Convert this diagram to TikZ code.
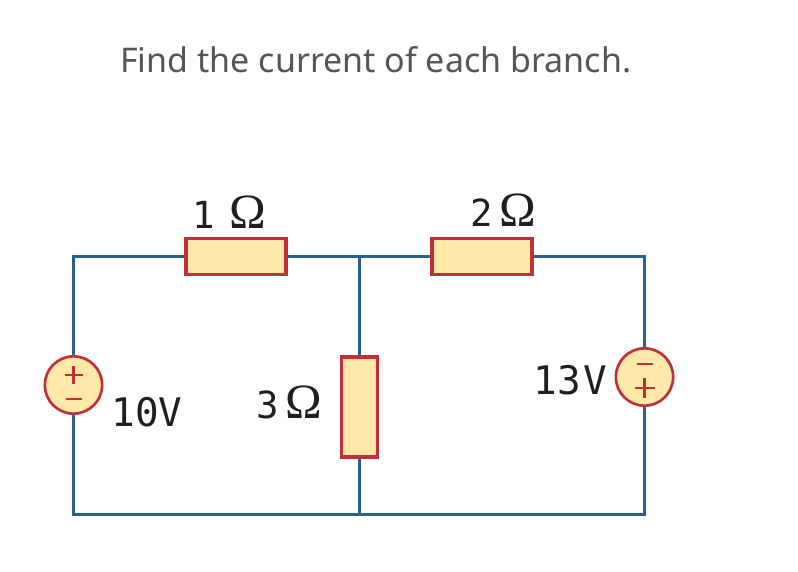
\documentclass[tikz,border=0pt]{standalone}
\usepackage{fontspec}
\setmainfont{Noto Sans}
\newfontfamily\labelfont{DejaVu Sans Mono}
\newfontfamily\ohmfont{Liberation Serif}
\usetikzlibrary{calc,positioning}
\definecolor{wireblue}{RGB}{42,96,144}
\definecolor{partred}{RGB}{192,48,56}
\definecolor{partfill}{RGB}{255,232,168}
\definecolor{titlegrey}{RGB}{85,85,85}
\newcommand{\ohm}[2][5pt]{{\labelfont #2}\hspace{#1}{\ohmfont\fontsize{37}{37}\selectfont\symbol{"03A9}}}
\tikzset{hres/.style={draw=partred,fill=partfill,line width=2.4pt,minimum width=75pt,minimum height=27.5pt,inner sep=0pt,shape=rectangle},
vres/.style={hres,minimum width=27pt,minimum height=75pt},
source/.style={draw=partred,fill=partfill,line width=2pt,minimum size=43pt,inner sep=0pt,shape=circle},
wire/.style={wireblue,line width=1.8pt},
sign/.style={partred,line width=1.6pt},
vallabel/.style={font=\fontsize{28}{30}\selectfont\labelfont,text=black!88,inner sep=0pt},
vlabel/.style={vallabel,font=\fontsize{29.5}{30}\selectfont\labelfont}}

\begin{document}
\begin{tikzpicture}[x=0.75pt,y=-0.75pt]
\useasboundingbox (0,0) rectangle (798,571);

% Title
\node[anchor=west,inner sep=0pt,text=titlegrey,font=\fontsize{25.5}{30}\selectfont] (title) at (120,60) {Find the current of each branch.};

% Corners and junctions
\coordinate (tl) at (73.5,256.5);
\coordinate (tm) at (359.5,256.5);
\coordinate (tr) at (644.5,256.5);
\coordinate (bl) at (73.5,514.5);
\coordinate (bm) at (359.5,514.5);
\coordinate (br) at (644.5,514.5);

% Parts
\node[hres] (r1) at (236,256.5) {};
\node[hres] (r2) at (482,256.5) {};
\node[vres] (r3) at (359.5,407) {};
\node[source] (v1) at (73.5,385) {};
\node[source] (v2) at (644.5,377) {};

% Wires
\draw[wire,line join=miter] (r1.west) -- (tl) -- (v1.north);
\draw[wire] (v1.south) -- (bl) -- (bm) -- (br) -- (v2.south);
\draw[wire] (v2.north) -- (tr) -- (r2.east);
\draw[wire] (r1.east) -- (tm) -- (r2.west);
\draw[wire] (tm) -- (r3.north);
\draw[wire] (r3.south) -- (bm);

% Signs
\draw[sign] ($(v1)+(-9,-10)$) -- ($(v1)+(9,-10)$);
\draw[sign] ($(v1)+(0,-19)$) -- ($(v1)+(0,-1)$);
\draw[sign] ($(v1)+(-8,14)$) -- ($(v1)+(8,14)$);
\draw[sign] ($(v2)+(-8,-13)$) -- ($(v2)+(8,-13)$);
\draw[sign] ($(v2)+(-10,11)$) -- ($(v2)+(10,11)$);
\draw[sign] ($(v2)+(0,1)$) -- ($(v2)+(0,21)$);

% Labels
\node[vallabel] (l1) at (229.5,212) {\ohm[11pt]{1}};
\node[vallabel] (l2) at (503,210) {\ohm{2}};
\node[vallabel] (l3) at (289,402) {\ohm{3}};
\node[vlabel] (l4) at (147,412) {10V};
\node[vlabel] (l5) at (570.5,380) {13\hspace{2pt}V};

\end{tikzpicture}
\end{document}
